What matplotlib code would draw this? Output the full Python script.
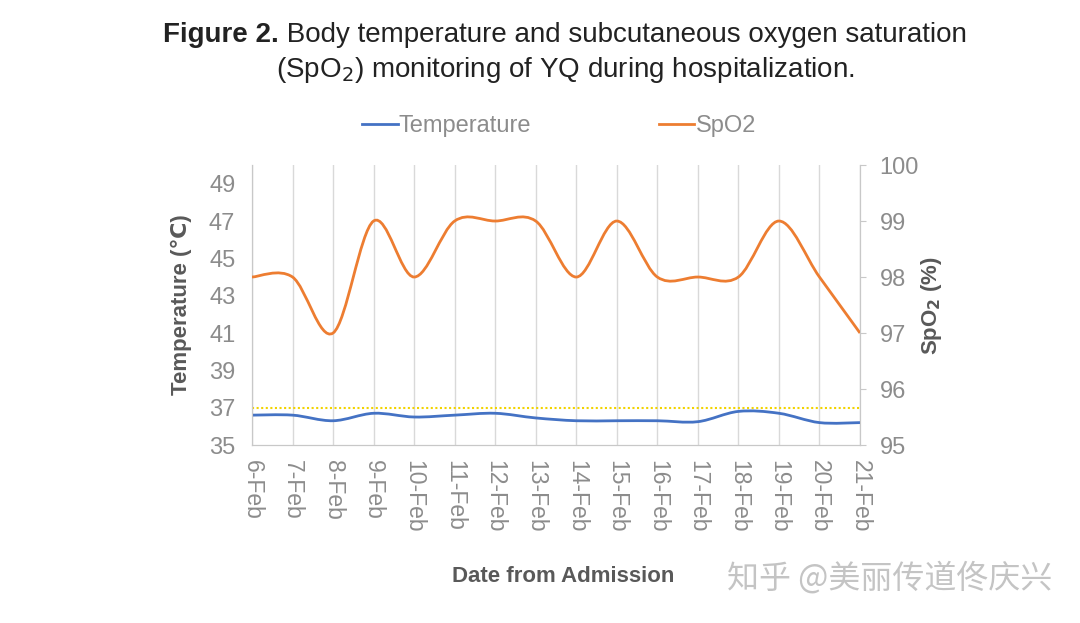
import numpy as np
import matplotlib
matplotlib.use("Agg")
import matplotlib.pyplot as plt
from matplotlib.path import Path
from matplotlib.patches import PathPatch
from matplotlib.lines import Line2D

dates = ["6-Feb", "7-Feb", "8-Feb", "9-Feb", "10-Feb", "11-Feb", "12-Feb", "13-Feb",
         "14-Feb", "15-Feb", "16-Feb", "17-Feb", "18-Feb", "19-Feb", "20-Feb", "21-Feb"]
temperature = [36.6, 36.6, 36.3, 36.7, 36.5, 36.6, 36.7, 36.45,
               36.3, 36.3, 36.3, 36.25, 36.8, 36.7, 36.2, 36.2]
spo2 = [98, 98, 97, 99, 98, 99, 99, 99, 98, 99, 98, 98, 98, 99, 98, 97]
fever_line = 37

blue = "#4472C4"
orange = "#ED7D31"
gray = "#8c8c8c"


def smooth_path(xs, ys):
    # excel-like smoothed line: cubic bezier through every point
    pts = np.column_stack([xs, ys]).astype(float)
    n = len(pts)
    verts = [pts[0]]
    codes = [Path.MOVETO]
    for i in range(n - 1):
        p0 = pts[max(i - 1, 0)]
        p1 = pts[i]
        p2 = pts[i + 1]
        p3 = pts[min(i + 2, n - 1)]
        c1 = p1 + (p2 - p0) / 6
        c2 = p2 - (p3 - p1) / 6
        verts += [c1, c2, p2]
        codes += [Path.CURVE4] * 3
    return Path(verts, codes)


plt.rcParams['font.family'] = ['Liberation Sans', 'DejaVu Sans']

fig = plt.figure(figsize=(10.8, 6.23), dpi=100)
ax = fig.add_axes([0.2333, 0.2857, 0.5630, 0.4494])
ax2 = ax.twinx()

x = np.arange(len(dates))

ax.add_patch(PathPatch(smooth_path(x, temperature), fill=False, edgecolor=blue, lw=2.0, zorder=3))
ax.axhline(fever_line, color="#f2d300", lw=1.5, ls=(0, (1, 1.2)), zorder=2)
ax2.add_patch(PathPatch(smooth_path(x, spo2), fill=False, edgecolor=orange, lw=2.0, zorder=3))

ax.set_xlim(0, len(dates) - 1)
ax.set_ylim(35, 50)
ax.set_yticks(np.arange(35, 50, 2))
ax2.set_ylim(95, 100)
ax2.set_yticks(np.arange(95, 101, 1))

ax.set_xticks(x)
ax.set_xticklabels(dates, rotation=270)
ax.grid(axis="x", color="#d9d9d9", lw=1.0)
ax.set_axisbelow(True)

for a in (ax, ax2):
    a.spines["top"].set_visible(False)
    for s in ("left", "right", "bottom"):
        a.spines[s].set_color("#c8c8c8")
    a.tick_params(colors="#c8c8c8", labelcolor=gray, width=0.8)
ax.tick_params(axis="y", length=0, labelsize=17, pad=12)
ax.tick_params(axis="x", length=0, labelsize=16.5, pad=11)
ax2.tick_params(axis="y", length=4, labelsize=17, pad=10)

ax.set_ylabel("Temperature (\u2103)", fontsize=16, fontweight="bold", color="#595959", labelpad=12)
ax2.set_ylabel("SpO$_\\mathbf{2}$ (%)", fontsize=16, fontweight="bold", color="#595959", labelpad=0)
fig.text(563 / 1080, 1 - 576 / 623, "Date from Admission", fontsize=16, fontweight="bold",
         color="#595959", va="center", ha="center")

handles = [Line2D([], [], color=blue, lw=2.0), Line2D([], [], color=orange, lw=2.0)]
leg = fig.legend(handles, ["Temperature", "SpO2"], ncol=2, loc="center",
                 bbox_to_anchor=(559 / 1080, 1 - 126 / 623), frameon=False,
                 fontsize=17, handlelength=1.5, handletextpad=0.05, columnspacing=5.4)
for t in leg.get_texts():
    t.set_color(gray)

# title: bold "Figure 2." followed by normal text
fig.canvas.draw()
r = fig.canvas.get_renderer()
tfs = 20
t1 = fig.text(0, 1 - 35 / 623, "Figure 2.", fontsize=tfs, fontweight="bold", color="#222222",
              va="center", ha="left")
t2 = fig.text(0, 1 - 35 / 623, " Body temperature and subcutaneous oxygen saturation",
              fontsize=tfs, color="#222222", va="center", ha="left")
w1 = t1.get_window_extent(r).width
w2 = t2.get_window_extent(r).width
x0 = 565 - (w1 + w2) / 2
t1.set_x(x0 / 1080)
t2.set_x((x0 + w1) / 1080)
fig.text(565 / 1080, 1 - 70 / 623, "(SpO$_2$) monitoring of YQ during hospitalization.",
         fontsize=tfs, color="#222222", va="center", ha="center")

fig.text(890 / 1080, 1 - 578 / 623, "知乎 @美丽传道佟庆兴", fontsize=23, color="#c4c4c4",
         va="center", ha="center", family=["Noto Sans CJK SC", "DejaVu Sans"])

fig.savefig("out.png", dpi=100, facecolor="white")
